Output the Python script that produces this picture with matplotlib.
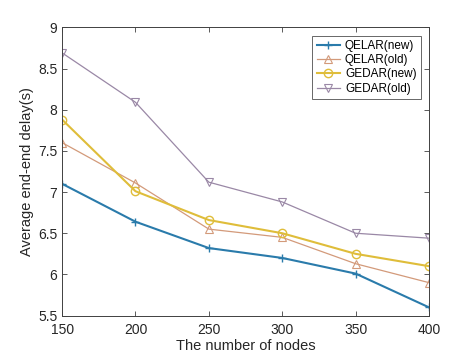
import numpy as np
import matplotlib
matplotlib.use("Agg")
import matplotlib.pyplot as plt

nodes = [150, 200, 250, 300, 350, 400]
qelar_new = [7.10, 6.64, 6.32, 6.20, 6.01, 5.60]
qelar_old = [7.60, 7.11, 6.55, 6.45, 6.13, 5.90]
gedar_new = [7.88, 7.01, 6.66, 6.50, 6.25, 6.10]
gedar_old = [8.69, 8.09, 7.12, 6.88, 6.50, 6.44]

plt.rcParams['font.family'] = ['Liberation Sans', 'DejaVu Sans']

fig = plt.figure(figsize=(4.74, 3.55), dpi=100)
ax = fig.add_axes([0.131, 0.111, 0.774, 0.812])

ax.plot(nodes, qelar_new, color='#2a7bab', lw=1.5, marker='+', ms=6, mew=1.0, label='QELAR(new)')
ax.plot(nodes, qelar_old, color='#d39a7a', lw=0.9, marker='^', ms=6, mfc='none', mew=0.8, label='QELAR(old)')
ax.plot(nodes, gedar_new, color='#dfbd3a', lw=1.5, marker='o', ms=6, mfc='none', mew=1.0, label='GEDAR(new)')
ax.plot(nodes, gedar_old, color='#9a88a6', lw=0.9, marker='v', ms=6, mfc='none', mew=0.8, label='GEDAR(old)')

ax.set_xlim(150, 400)
ax.set_ylim(5.5, 9)
ax.set_xticks(nodes)
ax.set_yticks(np.arange(5.5, 9.01, 0.5))
ax.set_yticklabels(['5.5', '6', '6.5', '7', '7.5', '8', '8.5', '9'])

for s in ax.spines.values():
    s.set_color('#404040')
    s.set_linewidth(0.7)
ax.tick_params(direction='in', top=True, right=True, length=3.5, width=0.6,
               colors='#404040', labelsize=10, labelcolor='#262626')
ax.tick_params(axis='x', pad=5)

ax.set_xlabel('The number of nodes', fontsize=10.5, color='#262626', labelpad=2)
ax.set_ylabel('Average end-end delay(s)', fontsize=10.5, color='#262626', labelpad=3)

leg = ax.legend(loc='upper right', fontsize=8.5, frameon=True, fancybox=False,
                edgecolor='#404040', handlelength=2.0, handletextpad=0.4,
                borderpad=0.35, labelspacing=0.2, borderaxespad=0.7)
leg.get_frame().set_linewidth(0.7)

fig.savefig('out.png', dpi=100)
